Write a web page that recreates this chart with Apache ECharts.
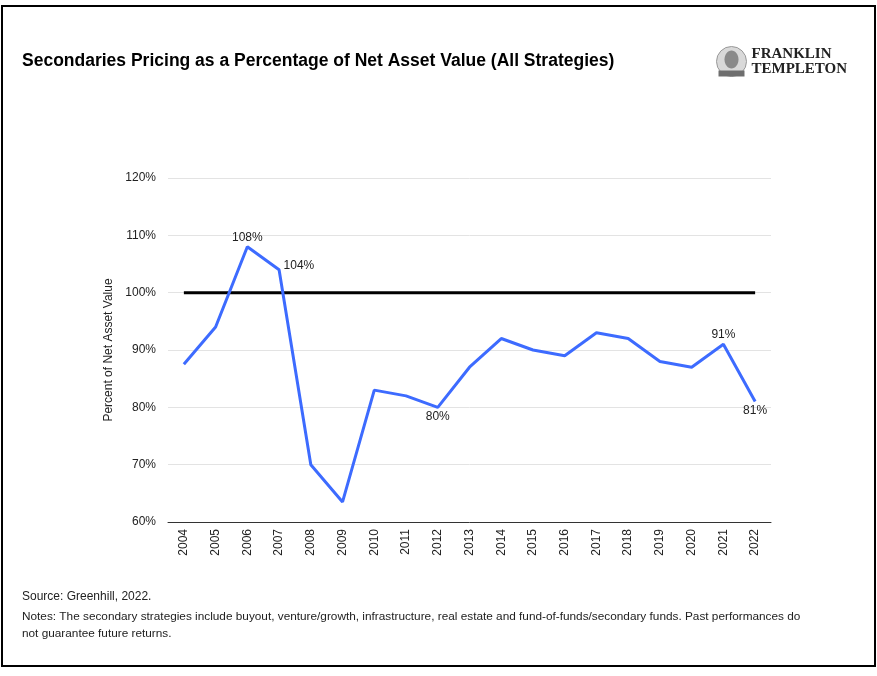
<!DOCTYPE html>
<html>
<head>
<meta charset="utf-8">
<script src="https://cdn.jsdelivr.net/npm/echarts@6/dist/echarts.min.js"></script>
<style>
html,body{margin:0;padding:0;background:#fff;}
#chart{width:877px;height:676px;}
</style>
</head>
<body>
<div id="chart"></div>
<script>
const years = ['2004','2005','2006','2007','2008','2009','2010','2011','2012','2013','2014','2015','2016','2017','2018','2019','2020','2021','2022'];
const pricing = [87.5,94,108,104,70,63.5,83,82,80,87,92,90,89,93,92,88,87,91,81];
const parLine = [100,100,100,100,100,100,100,100,100,100,100,100,100,100,100,100,100,100,100];
const labelled = {'2006':'top','2007':'right','2012':'bottom','2021':'top','2022':'bottom'};
const yTicks = [60,70,80,90,100,110,120];

const chart = echarts.init(document.getElementById('chart'));
const font = 'Arial, "Liberation Sans", sans-serif';

const lineData = pricing.map((v,i)=>{
  const pos = labelled[years[i]];
  const d = {value:v};
  if(pos){
    d.label = {show:true, position:pos, distance: pos==='right'?4:3,
      formatter: Math.round(v)+'%', color:'#222', fontSize:12, fontFamily:font};
    if(pos==='right'){ d.label.offset=[0,-4]; }
  } else {
    d.label = {show:false};
  }
  return d;
});

chart.setOption({
  animation:false,
  backgroundColor:'#fff',
  title:{
    text:'Secondaries Pricing as a Percentage of Net Asset Value (All Strategies)',
    left:17, top:47,
    textStyle:{fontFamily:font, fontSize:17.5, fontWeight:'bold', color:'#000'}
  },
  grid:{left:168, right:106, top:178, bottom:154, containLabel:false},
  xAxis:{
    type:'category', data:years, boundaryGap:true,
    axisLine:{lineStyle:{color:'#333', width:1}},
    axisTick:{show:false},
    axisLabel:{rotate:90, color:'#222', fontSize:12, fontFamily:font, margin:7, interval:0}
  },
  yAxis:{
    type:'value', min:yTicks[0], max:yTicks[yTicks.length-1], interval:10,
    name:'Percent of Net Asset Value', nameLocation:'middle', nameGap:48,
    nameRotate:90,
    nameTextStyle:{color:'#222', fontSize:12, fontFamily:font},
    axisLine:{show:false}, axisTick:{show:false},
    axisLabel:{formatter:'{value}%', color:'#222', fontSize:12, fontFamily:font, margin:12},
    splitLine:{lineStyle:{color:'#e3e3e3', width:1}}
  },
  series:[
    {
      type:'line', data:parLine, symbol:'none', silent:true,
      lineStyle:{color:'#000', width:3}, z:2
    },
    {
      type:'line', data:lineData, symbol:'circle', symbolSize:1, showSymbol:true,
      itemStyle:{color:'rgba(0,0,0,0)'},
      label:{show:false},
      lineStyle:{color:'#3d6bff', width:3}, z:3
    }
  ],
  graphic:[
    {type:'rect', shape:{x:2, y:6, width:873, height:660},
     style:{fill:'none', stroke:'#000', lineWidth:2}, silent:true},
    {type:'text', left:22, top:591,
     style:{text:'Source: Greenhill, 2022.', fill:'#222', font:'12px '+font}},
    {type:'text', left:22, top:608,
     style:{text:'Notes: The secondary strategies include buyout, venture/growth, infrastructure, real estate and fund-of-funds/secondary funds. Past performances do\nnot guarantee future returns.', fill:'#222', font:'11.8px '+font, lineHeight:17}},
    {type:'group', left:716, top:46, children:[
      {type:'circle', shape:{cx:17, cy:19, r:15}, style:{fill:'#d9d9d9', stroke:'#999', lineWidth:1}},
      {type:'ellipse', shape:{cx:17, cy:17, rx:7, ry:9}, style:{fill:'#8a8a8a'}},
      {type:'rect', shape:{x:4, y:28, width:26, height:6}, style:{fill:'#6e6e6e'}},
      {type:'text', x:37, y:4, style:{text:'FRANKLIN', fill:'#222', font:'bold 15px "Liberation Serif", "DejaVu Serif", serif'}},
      {type:'text', x:37, y:19, style:{text:'TEMPLETON', fill:'#222', font:'bold 15px "Liberation Serif", "DejaVu Serif", serif'}}
    ]}
  ]
});
</script>
</body>
</html>
